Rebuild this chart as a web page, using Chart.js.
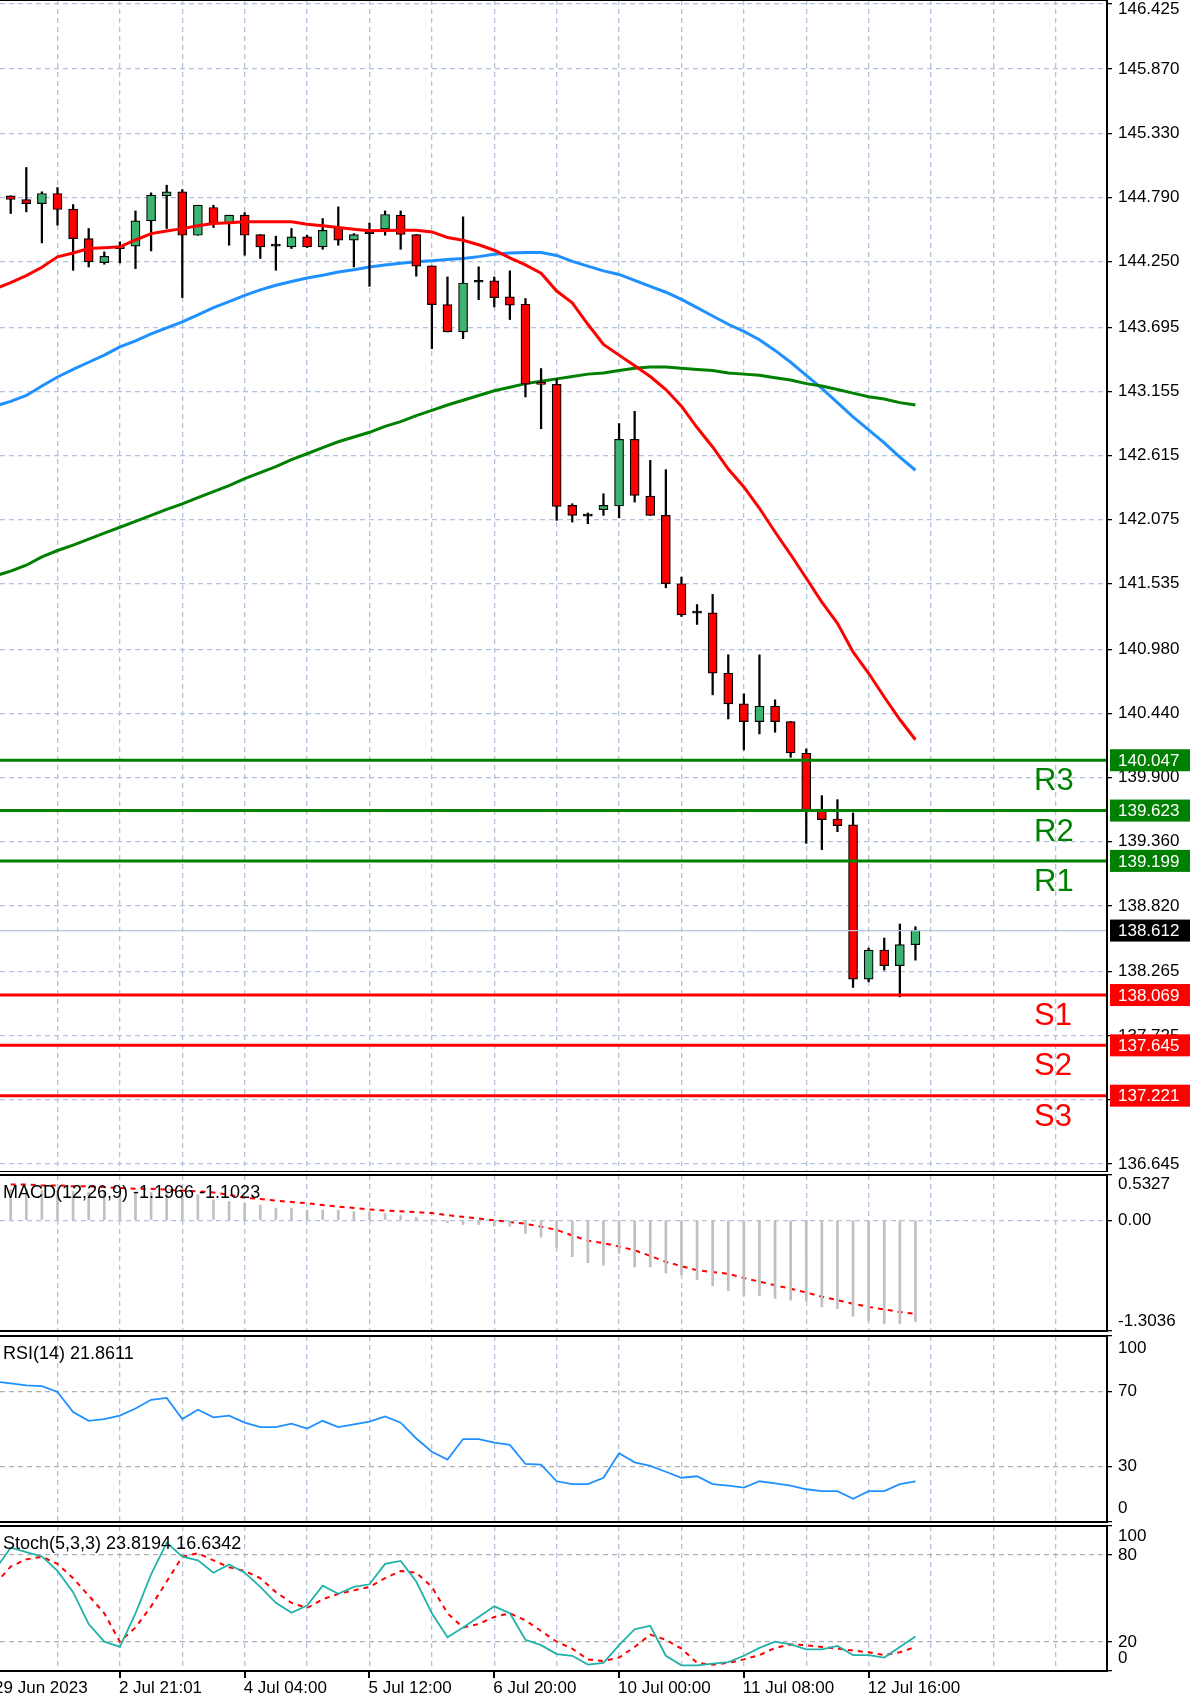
<!DOCTYPE html>
<html><head><meta charset="utf-8">
<script src="https://cdn.jsdelivr.net/npm/chart.js@4.4.1/dist/chart.umd.min.js"></script>
<style>
html,body{margin:0;padding:0;background:#fff;width:1200px;height:1708px;overflow:hidden}
.p{position:absolute;left:0;width:1200px}
</style></head><body>
<div class="p" style="top:0;height:1172px"><canvas id="cMain"></canvas></div>
<div class="p" style="top:1173px;height:160px"><canvas id="cMacd"></canvas></div>
<div class="p" style="top:1333px;height:191px"><canvas id="cRsi"></canvas></div>
<div class="p" style="top:1524px;height:184px"><canvas id="cSto"></canvas></div>
<script>
// ---- data ----
const opens =[144.802,144.771,144.737,144.822,144.690,144.442,144.240,144.358,144.378,144.591,144.802,144.836,144.470,144.704,144.574,144.639,144.476,144.378,144.372,144.456,144.372,144.535,144.428,144.484,144.521,144.639,144.476,144.212,143.886,143.655,144.074,144.086,143.951,143.889,143.215,143.214,142.194,142.104,142.158,142.189,142.751,142.273,142.110,141.534,141.286,141.289,140.780,140.522,140.373,140.502,140.373,140.106,139.623,139.552,139.502,138.203,138.448,138.316,138.493];
const highs =[144.802,145.041,144.836,144.872,144.729,144.527,144.330,144.414,144.675,144.827,144.892,144.855,144.723,144.723,144.639,144.661,144.476,144.462,144.527,144.470,144.611,144.709,144.484,144.574,144.675,144.675,144.476,144.212,144.119,144.625,144.204,144.119,144.170,143.937,143.347,143.260,142.208,142.130,142.292,142.883,142.987,142.573,142.495,141.590,141.359,141.444,140.935,140.606,140.935,140.556,140.373,140.142,139.749,139.715,139.603,138.465,138.549,138.667,138.645];
const lows  =[144.653,144.667,144.406,144.555,144.175,144.203,144.226,144.237,144.189,144.338,144.527,143.945,144.470,144.535,144.386,144.302,144.274,144.175,144.358,144.366,144.352,144.386,144.203,144.040,144.470,144.352,144.125,143.515,143.655,143.599,143.928,143.866,143.760,143.108,142.840,142.068,142.054,142.040,142.110,142.090,142.222,142.110,141.500,141.258,141.191,140.598,140.395,140.134,140.269,140.283,140.072,139.347,139.294,139.445,138.133,138.181,138.279,138.054,138.363];
const closes=[144.771,144.737,144.822,144.687,144.442,144.245,144.293,144.380,144.591,144.808,144.836,144.470,144.723,144.574,144.639,144.470,144.372,144.378,144.456,144.372,144.512,144.428,144.476,144.484,144.645,144.476,144.209,143.886,143.655,144.068,144.074,143.945,143.881,143.215,143.214,142.186,142.110,142.104,142.194,142.751,142.278,142.110,141.534,141.272,141.286,140.780,140.522,140.373,140.502,140.373,140.109,139.628,139.547,139.496,138.203,138.448,138.316,138.493,138.617];
// moving averages, index -1..58
const maRed  =[144.02,144.07,144.13,144.20,144.288,144.32,144.358,144.365,144.372,144.43,144.484,144.505,144.526,144.55,144.569,144.576,144.583,144.583,144.583,144.583,144.563,144.55,144.535,144.52,144.507,144.51,144.513,144.513,144.498,144.451,144.428,144.39,144.344,144.28,144.22,144.15,144.00,143.90,143.72,143.55,143.46,143.37,143.28,143.17,143.03,142.85,142.686,142.50,142.35,142.17,141.97,141.78,141.58,141.38,141.20,140.96,140.78,140.58,140.39,140.22];
const maBlue =[143.03,143.07,143.12,143.20,143.276,143.34,143.40,143.46,143.529,143.58,143.64,143.69,143.74,143.80,143.86,143.91,143.964,144.01,144.049,144.08,144.11,144.133,144.16,144.18,144.203,144.22,144.235,144.246,144.255,144.265,144.274,144.29,144.31,144.32,144.325,144.325,144.30,144.25,144.21,144.17,144.14,144.09,144.04,143.99,143.93,143.86,143.79,143.72,143.66,143.59,143.50,143.40,143.29,143.18,143.06,142.94,142.83,142.72,142.60,142.49];
const maGreen=[141.60,141.64,141.69,141.76,141.814,141.86,141.91,141.96,142.01,142.06,142.11,142.16,142.207,142.26,142.31,142.36,142.42,142.47,142.52,142.58,142.629,142.68,142.73,142.77,142.81,142.86,142.90,142.95,142.994,143.04,143.08,143.12,143.16,143.19,143.22,143.24,143.26,143.28,143.30,143.31,143.33,143.35,143.36,143.36,143.35,143.34,143.33,143.31,143.30,143.29,143.27,143.25,143.22,143.20,143.17,143.14,143.11,143.09,143.06,143.04];
const levelNames =["R3","R2","R1","S1","S2","S3"];
const levelValues=[140.047,139.623,139.199,138.069,137.645,137.221];
const currentPrice=138.612;
const priceTicks=[146.425,145.870,145.330,144.790,144.250,143.695,143.155,142.615,142.075,141.535,140.980,140.440,139.900,139.360,138.820,138.265,137.725,137.185,136.645];
// MACD index 0..58
const macdHist=[0.36,0.36,0.35,0.35,0.34,0.33,0.33,0.32,0.32,0.33,0.33,0.30,0.30,0.24,0.22,0.20,0.18,0.14,0.14,0.12,0.12,0.12,0.10,0.10,0.08,0.055,0.035,0.01,-0.03,-0.05,-0.05,-0.07,-0.07,-0.155,-0.20,-0.32,-0.43,-0.50,-0.53,-0.39,-0.55,-0.55,-0.62,-0.64,-0.70,-0.77,-0.83,-0.89,-0.89,-0.92,-0.94,-0.95,-1.02,-1.04,-1.13,-1.18,-1.22,-1.22,-1.1966];
const macdSignal=[0.42,0.42,0.41,0.41,0.40,0.40,0.39,0.38,0.37,0.37,0.36,0.35,0.34,0.328,0.30,0.265,0.25,0.23,0.215,0.20,0.18,0.16,0.145,0.126,0.115,0.105,0.095,0.084,0.06,0.04,0.02,0.0,-0.02,-0.042,-0.075,-0.113,-0.18,-0.24,-0.27,-0.31,-0.353,-0.42,-0.49,-0.54,-0.588,-0.61,-0.63,-0.68,-0.723,-0.765,-0.807,-0.85,-0.90,-0.94,-0.983,-1.02,-1.05,-1.08,-1.1023];
// RSI, index -1..58
const rsi=[75.5,74.5,73.5,73.0,69.9,59.1,54.4,55.3,57.2,61,65.7,66.7,55.3,60.4,56.3,57.2,53.4,51,51,52.9,50.2,54.4,51,52.5,54,56.8,53.4,44.9,37.8,33.6,44.6,44.6,42.7,41.5,31.2,30.8,21.9,20.4,20.4,23.8,37,32.1,30.2,27,23.8,24.6,20.4,19.5,18.5,21.9,20.8,19.5,17.6,16.6,16.6,12.5,16.6,16.6,20.4,21.86];
// Stochastic, index -1..58
const stochK=[70,85,82,79,69,54.4,32.4,20.2,16.6,39.8,66.6,88.5,78.8,76.3,67.8,73.4,67.8,58,47,40.2,45.1,58.8,53.2,58,59.8,73.9,75.9,61.7,39.8,23.2,30,37.3,44.6,39.8,21.5,17.8,11.7,10.5,4.4,5.6,17.8,28.8,31.2,10.5,3.9,3.9,5.1,6.1,10.5,15.9,20.2,18.3,14.9,14.9,17.3,11,11,9.3,16.6,23.82];
const stochD=[60,72,77,78.8,73.9,64,52,39.8,20.2,30,44.6,61.7,78.8,81.2,76.3,71.5,69,64,54.4,47,43.4,49.5,53.2,55.6,58,64,69,67.8,58,39.8,30,32.4,37.3,39.8,34.9,27.6,20.2,15.4,8,6.8,9.3,16.6,25.1,21.5,15.4,5.6,4.4,5.6,8,11,15.9,18.3,17.8,16.6,15.4,14.1,12.9,11,12.9,16.63];
const timeTickIdx=[-1,7,15,23,31,39,47,55];
const timeLabels=["29 Jun 2023","2 Jul 21:01","4 Jul 04:00","5 Jul 12:00","6 Jul 20:00","10 Jul 00:00","11 Jul 08:00","12 Jul 16:00"];

// ---- helpers ----
const XMIN=-0.686, XMAX=70.28;
const gridIdx=[]; for(let v=-1; v<=70; v+=4) gridIdx.push(v);
const FONT='"Liberation Sans", Arial, sans-serif';
const GRIDC='#B3C3DB';
const from0=a=>a.map((y,i)=>({x:i,y}));
const fromM1=a=>a.map((y,i)=>({x:i-1,y}));
function xGrid(){return {type:'linear',min:XMIN,max:XMAX,offset:false,
  afterBuildTicks:s=>{s.ticks=gridIdx.map(v=>({value:v}));},
  afterFit:s=>{s.height=0;},
  ticks:{display:false},border:{display:false,dash:[5,4]},
  grid:{color:GRIDC,lineWidth:1.3,drawTicks:false,offset:false}};}
function yAxis(min,max,vals,gridColor){return {type:'linear',position:'right',min,max,
  afterBuildTicks:s=>{s.ticks=vals.map(v=>({value:v}));},
  afterFit:s=>{s.width=93;},
  border:{display:false,dash:[5,4]},
  ticks:{display:false},
  grid:{color:gridColor,lineWidth:1.3,tickLength:5,tickColor:'#000',tickBorderDash:[]}};}
const deco={id:'deco',afterDraw(ch,args,o){
  const c=ch.ctx,a=ch.chartArea,y=ch.scales.y;
  c.save();
  c.strokeStyle='#000';c.lineWidth=2;
  c.strokeRect(a.left-2,a.top,a.right-a.left+2,a.bottom-a.top);
  c.font='17px '+FONT;c.fillStyle='#000';c.textBaseline='middle';c.textAlign='left';
  (o.labels||[]).forEach(l=>{c.fillText(l.t,1118,y.getPixelForValue(l.v)+(l.dy||0));});
  if(o.title){c.font='18px '+FONT;c.textBaseline='top';c.fillText(o.title,3,a.top+9);}
  if(o.times){const xs=ch.scales.xl;c.font='17px '+FONT;c.textBaseline='middle';
    timeTickIdx.forEach((v,k)=>c.fillText(timeLabels[k],xs.getPixelForValue(v)-1,a.bottom+17));}
  c.restore();}};
Chart.register(deco);

// ---- main chart ----
const bodyColors=opens.map((o,i)=>closes[i]>o?'#3CB371':(closes[i]<o?'#FF0000':'#000'));
const levelsPlugin={id:'levels',afterDatasetsDraw(ch){
  const c=ch.ctx,a=ch.chartArea,y=ch.scales.y;
  c.save();
  const py=y.getPixelForValue(currentPrice);
  c.strokeStyle='#B3C3DB';c.lineWidth=1.2;c.beginPath();c.moveTo(a.left,py);c.lineTo(a.right,py);c.stroke();
  levelValues.forEach((v,k)=>{const p=y.getPixelForValue(v);const col=k<3?'#008000':'#FF0000';
    c.strokeStyle=col;c.lineWidth=3;c.beginPath();c.moveTo(a.left,p);c.lineTo(a.right,p);c.stroke();
    c.fillStyle=col;c.font='31px '+FONT;c.textAlign='left';c.textBaseline='top';
    c.fillText(levelNames[k],1034,p+6);});
  c.restore();},
 afterDraw(ch){const c=ch.ctx,y=ch.scales.y;c.save();
  c.font='17px '+FONT;c.textBaseline='middle';c.textAlign='left';
  const box=(v,bg)=>{const p=y.getPixelForValue(v);c.fillStyle=bg;c.fillRect(1110,p-11,80,22);
    c.fillStyle='#fff';c.fillText(v.toFixed(3),1118,p+1);};
  levelValues.forEach((v,k)=>box(v,k<3?'#008000':'#FF0000'));
  box(currentPrice,'#000');
  c.restore();}};
new Chart(document.getElementById('cMain'),{
  type:'bar',
  data:{datasets:[
    {type:'line',data:fromM1(maGreen),borderColor:'#008000',borderWidth:3,pointRadius:0,order:3},
    {type:'line',data:fromM1(maBlue),borderColor:'#1E90FF',borderWidth:3,pointRadius:0,order:3},
    {type:'line',data:fromM1(maRed),borderColor:'#FF0000',borderWidth:3,pointRadius:0,order:0},
    {data:highs.map((h,i)=>({x:i,y:[lows[i],h]})),backgroundColor:'#000',barThickness:1.6,grouped:false,order:2},
    {data:opens.map((o,i)=>({x:i,y:[o,closes[i]]})),backgroundColor:bodyColors,borderColor:'#000',borderWidth:1.2,borderSkipped:false,barThickness:9,minBarLength:2,grouped:false,order:1}
  ]},
  options:{animation:false,responsive:true,maintainAspectRatio:false,layout:{padding:0},
    plugins:{legend:{display:false},tooltip:{enabled:false},deco:{labels:priceTicks.map(v=>({t:v.toFixed(3),v,dy:v>146?6:0}))}},
    scales:{x:xGrid(),y:yAxis(136.578,146.452,priceTicks,GRIDC)}},
  plugins:[levelsPlugin]});

// ---- MACD ----
new Chart(document.getElementById('cMacd'),{
  type:'bar',
  data:{datasets:[
    {data:from0(macdHist),backgroundColor:'#C0C0C0',barThickness:2,grouped:false},
    {type:'line',data:from0(macdSignal),borderColor:'#FF0000',borderWidth:2,borderDash:[5,5],pointRadius:0}
  ]},
  options:{animation:false,responsive:true,maintainAspectRatio:false,layout:{padding:{top:2,bottom:2}},
    plugins:{legend:{display:false},tooltip:{enabled:false},
      deco:{title:'MACD(12,26,9) -1.1966 -1.1023',labels:[{t:'0.5327',v:0.5327,dy:9},{t:'0.00',v:0},{t:'-1.3036',v:-1.3036,dy:-10}]}},
    scales:{x:xGrid(),y:yAxis(-1.3036,0.5327,[0.5327,0,-1.3036],c=>c.tick.value===0?GRIDC:'rgba(0,0,0,0)')}}});

// ---- RSI ----
new Chart(document.getElementById('cRsi'),{
  type:'line',
  data:{datasets:[{data:fromM1(rsi),borderColor:'#1E90FF',borderWidth:1.8,pointRadius:0}]},
  options:{animation:false,responsive:true,maintainAspectRatio:false,layout:{padding:{top:3,bottom:2}},
    plugins:{legend:{display:false},tooltip:{enabled:false},
      deco:{title:'RSI(14) 21.8611',labels:[{t:'100',v:100,dy:12},{t:'70',v:70},{t:'30',v:30},{t:'0',v:0,dy:-14}]}},
    scales:{x:xGrid(),y:yAxis(0,100,[100,70,30,0],c=>(c.tick.value===70||c.tick.value===30)?'#B0B0B0':'rgba(0,0,0,0)')}}});

// ---- Stochastic ----
new Chart(document.getElementById('cSto'),{
  type:'line',
  data:{datasets:[
    {data:fromM1(stochK),borderColor:'#20B2AA',borderWidth:1.8,pointRadius:0},
    {data:fromM1(stochD),borderColor:'#FF0000',borderWidth:2,borderDash:[5,5],pointRadius:0}
  ]},
  options:{animation:false,responsive:true,maintainAspectRatio:false,layout:{padding:{top:2,bottom:0}},
    plugins:{legend:{display:false},tooltip:{enabled:false},
      deco:{title:'Stoch(5,3,3) 23.8194 16.6342',times:true,labels:[{t:'100',v:100,dy:10},{t:'80',v:80},{t:'20',v:20},{t:'0',v:0,dy:-13}]}},
    scales:{x:xGrid(),
      xl:{type:'linear',position:'bottom',min:XMIN,max:XMAX,offset:false,
        afterBuildTicks:s=>{s.ticks=timeTickIdx.map(v=>({value:v}));},
        afterFit:s=>{s.height=37;},
        border:{display:false},
        grid:{drawOnChartArea:false,drawTicks:true,tickLength:7,tickColor:'#000',lineWidth:2,offset:false},
        ticks:{display:false}},
      y:yAxis(0,100,[100,80,20,0],c=>(c.tick.value===80||c.tick.value===20)?'#B0B0B0':'rgba(0,0,0,0)')}}});
</script>
</body></html>
